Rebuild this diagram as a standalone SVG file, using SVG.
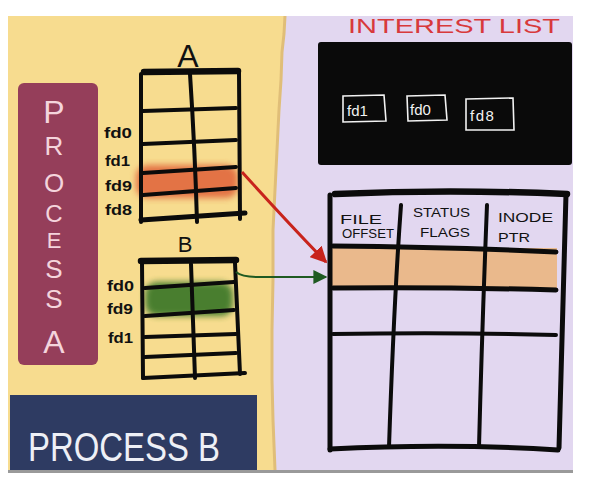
<svg xmlns="http://www.w3.org/2000/svg" width="593" height="486" viewBox="0 0 593 486">
  <defs>
    <style>
      .ink { fill: none; stroke: #0b0b0b; stroke-linecap: round; stroke-linejoin: round; }
      .w4 { stroke-width: 4; }
      .w5 { stroke-width: 5; }
      .w6 { stroke-width: 6.5; }
      .lbl { font-family: "Liberation Sans", "DejaVu Sans", sans-serif; fill: #111; font-size: 15px; font-weight: bold; }
      .hdr { font-family: "Liberation Sans", "DejaVu Sans", sans-serif; fill: #111; font-size: 13px; }
      .pa { font-family: "Liberation Sans", "DejaVu Sans", sans-serif; fill: #F4D4DC; text-anchor: middle; }
      .wbox { fill: none; stroke: #f2f2f2; stroke-width: 1.6; }
      .wtxt { font-family: "Liberation Sans", "DejaVu Sans", sans-serif; fill: #f2f2f2; font-size: 15px; }
    </style>
    <filter id="fuzz" x="-30%" y="-60%" width="160%" height="220%">
      <feGaussianBlur stdDeviation="3"/>
    </filter>
    <marker id="redHead" viewBox="0 0 10 10" refX="9" refY="5" markerWidth="5.5" markerHeight="5.5" orient="auto" markerUnits="strokeWidth">
      <path d="M0,0 L10,5 L0,10 Z" fill="#C8231C"/>
    </marker>
    <marker id="greenHead" viewBox="0 0 10 10" refX="9" refY="5" markerWidth="7" markerHeight="7" orient="auto" markerUnits="strokeWidth">
      <path d="M0,0 L10,5 L0,10 Z" fill="#1F5A22"/>
    </marker>
  </defs>

  <!-- background -->
  <rect x="0" y="0" width="593" height="486" fill="#ffffff"/>
  <rect x="265" y="16" width="308" height="454" fill="#E2D7F0"/>
  <path d="M8,16 L285,16 L284,34 L282,52 L281,80 L279,110 L277,150 L275,190 L273,230 L273,280 L272,330 L272,380 L273,420 L275,470 L8,470 Z" fill="#F7DC8F"/>
  <path d="M285,16 L284,34 L282,52 L281,80 L279,110 L277,150 L275,190 L273,230 L273,280 L272,330 L272,380 L273,420 L275,470" fill="none" stroke="#E0BE78" stroke-width="3"/>
  <rect x="8" y="470" width="565" height="3" fill="#9a9a9a"/>

  <!-- Process A -->
  <g id="process-a">
    <rect x="18" y="83" width="80" height="282" rx="6" fill="#953E5A"/>
    <text class="pa" x="54" y="123" font-size="32">P</text>
    <text class="pa" x="54" y="155" font-size="26">R</text>
    <text class="pa" x="54" y="192" font-size="26">O</text>
    <text class="pa" x="54" y="222" font-size="24">C</text>
    <text class="pa" x="54" y="248" font-size="22">E</text>
    <text class="pa" x="54" y="278" font-size="26">S</text>
    <text class="pa" x="54" y="308" font-size="26">S</text>
    <text class="pa" x="54" y="353" font-size="32">A</text>
  </g>

  <!-- Process B -->
  <g id="process-b">
    <rect x="10" y="395" width="247" height="75" fill="#2E3B62"/>
    <text x="28" y="461" font-family="Liberation Sans, DejaVu Sans, sans-serif" font-size="40" fill="#EEF0F6" textLength="192" lengthAdjust="spacingAndGlyphs">PROCESS B</text>
  </g>

  <!-- Table A -->
  <g id="table-a">
    <rect x="136" y="165" width="102" height="33" rx="12" fill="#E1673C" filter="url(#fuzz)" opacity="0.9"/>
    <text x="188" y="67" font-family="Liberation Sans, DejaVu Sans, sans-serif" font-size="32" fill="#111" text-anchor="middle">A</text>
    <path class="ink w4" d="M141,74 L141,222"/>
    <path class="ink w4" d="M190,74 Q195,150 197,222"/>
    <path class="ink w4" d="M239,72 L240,219"/>
    <path class="ink w6" d="M144,72 L238,71"/>
    <path class="ink w4" d="M143,111 L236,108"/>
    <path class="ink w4" d="M143,144 L236,140"/>
    <path class="ink w4" d="M143,173 L236,167"/>
    <path class="ink w4" d="M143,195 L236,188"/>
    <path class="ink w5" d="M141,220 L245,213"/>
    <text class="lbl" x="104" y="138" textLength="28" lengthAdjust="spacingAndGlyphs">fd0</text>
    <text class="lbl" x="105" y="166" textLength="25" lengthAdjust="spacingAndGlyphs">fd1</text>
    <text class="lbl" x="105" y="191" textLength="27" lengthAdjust="spacingAndGlyphs">fd9</text>
    <text class="lbl" x="105" y="215" textLength="27" lengthAdjust="spacingAndGlyphs">fd8</text>
  </g>

  <!-- Table B -->
  <g id="table-b">
    <rect x="145" y="282" width="88" height="34" rx="12" fill="#3F7A2C" filter="url(#fuzz)" opacity="0.95"/>
    <text x="185" y="252" font-family="Liberation Sans, DejaVu Sans, sans-serif" font-size="22" fill="#111" text-anchor="middle">B</text>
    <path class="ink w4" d="M142,263 L143,378"/>
    <path class="ink w4" d="M191,264 L195,378"/>
    <path class="ink w4" d="M235,263 L240,374"/>
    <path class="ink w6" d="M141,261 L236,260"/>
    <path class="ink w4" d="M145,288 L234,282"/>
    <path class="ink w4" d="M145,316 L234,310"/>
    <path class="ink w4" d="M145,337 L236,334"/>
    <path class="ink w4" d="M145,357 L236,353"/>
    <path class="ink w4" d="M143,378 L245,373"/>
    <text class="lbl" x="107" y="291" textLength="27" lengthAdjust="spacingAndGlyphs">fd0</text>
    <text class="lbl" x="107" y="314" textLength="26" lengthAdjust="spacingAndGlyphs">fd9</text>
    <text class="lbl" x="108" y="343" textLength="25" lengthAdjust="spacingAndGlyphs">fd1</text>
  </g>

  <!-- Interest list -->
  <g id="interest-list">
    <text x="348" y="33" font-family="Liberation Sans, DejaVu Sans, sans-serif" font-size="20" fill="#D8393B" textLength="212" lengthAdjust="spacingAndGlyphs">INTEREST LIST</text>
    <rect x="318" y="42" width="254" height="123" rx="3" fill="#0a0a0a"/>
    <path class="wbox" d="M343,96 L384,95 L386,121 L343,122 Z"/>
    <text class="wtxt" x="347" y="116">fd1</text>
    <path class="wbox" d="M407,96 L445,95 L447,120 L408,121 Z"/>
    <text class="wtxt" x="410" y="115">fd0</text>
    <path class="wbox" d="M466,99 L513,98 L514,130 L466,130 Z"/>
    <text class="wtxt" x="470" y="121" letter-spacing="1.5">fd8</text>
  </g>

  <!-- File table -->
  <g id="file-table">
    <rect x="331" y="248" width="226" height="41" fill="#EAB98C"/>
    <path class="ink w5" d="M330,195 L330,450"/>
    <path class="ink w5" d="M566,194 L559,448"/>
    <path class="ink w4" d="M401,205 Q394,300 389,447"/>
    <path class="ink w4" d="M487,205 Q482,330 479,447"/>
    <path class="ink w6" d="M335,194 Q450,189 567,194"/>
    <path class="ink w5" d="M333,246 Q450,247 556,252"/>
    <path class="ink w5" d="M333,288 Q450,287 556,290"/>
    <path class="ink w4" d="M333,334 Q450,332 556,335"/>
    <path class="ink w5" d="M330,449 Q450,443 558,450"/>
    <text class="hdr" x="340" y="224" font-size="15" textLength="42" lengthAdjust="spacingAndGlyphs">FILE</text>
    <text class="hdr" x="342" y="238" textLength="52" lengthAdjust="spacingAndGlyphs">OFFSET</text>
    <text class="hdr" x="413" y="217" textLength="57" lengthAdjust="spacingAndGlyphs">STATUS</text>
    <text class="hdr" x="420" y="237" textLength="50" lengthAdjust="spacingAndGlyphs">FLAGS</text>
    <text class="hdr" x="498" y="222" font-size="15" textLength="55" lengthAdjust="spacingAndGlyphs">INODE</text>
    <text class="hdr" x="498" y="242" textLength="32" lengthAdjust="spacingAndGlyphs">PTR</text>
  </g>

  <!-- connectors -->
  <g id="connectors">
    <path d="M242,172 Q290,225 326,262" fill="none" stroke="#C8231C" stroke-width="3" marker-end="url(#redHead)"/>
    <path d="M236,272 Q242,277 258,277 L326,277" fill="none" stroke="#1F5A22" stroke-width="2" marker-end="url(#greenHead)"/>
  </g>
</svg>
